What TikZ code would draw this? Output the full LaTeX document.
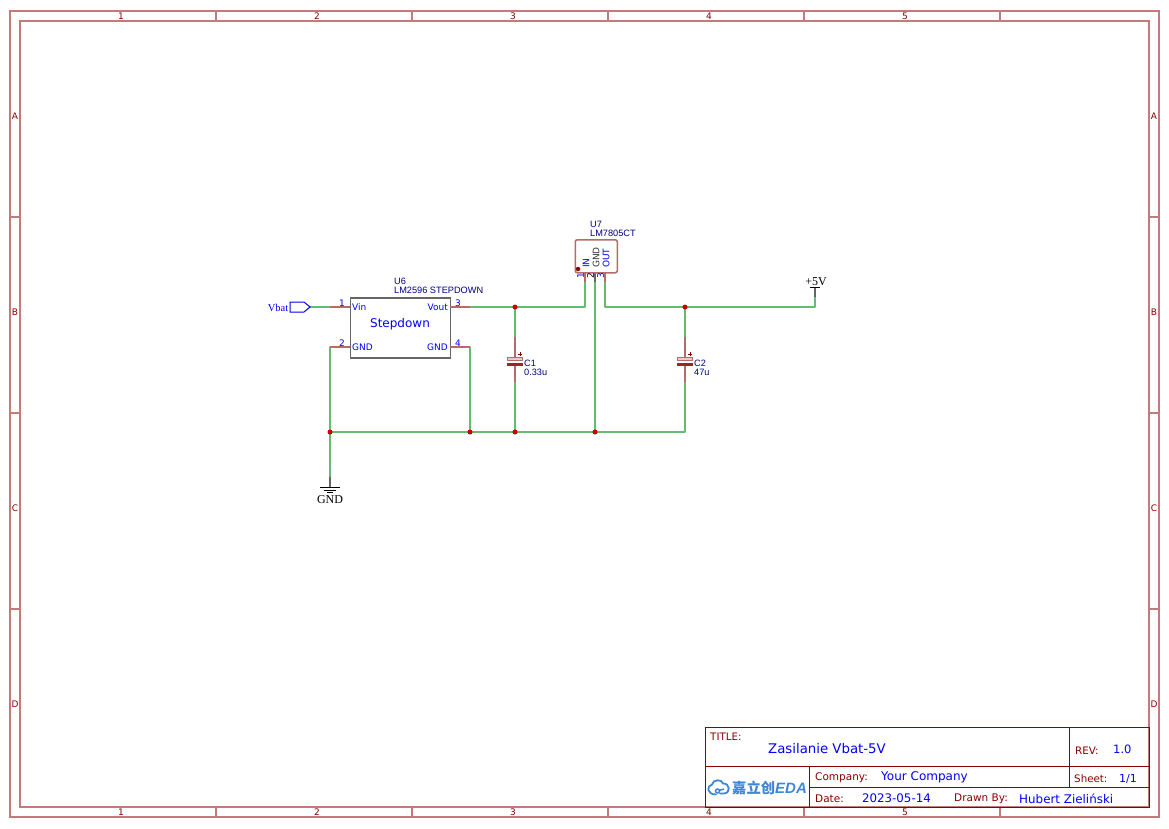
\documentclass[tikz,border=0pt]{standalone}
\usepackage{fontspec}
\setmainfont{DejaVu Sans}
\newfontfamily\liba{Liberation Sans}
\newfontfamily\libs{Liberation Serif}
\newfontfamily\cjkf{Noto Sans CJK SC}
\definecolor{frameC}{HTML}{880000}
\definecolor{frameL}{HTML}{C47A7A}
\definecolor{wireC}{HTML}{66BB70}
\definecolor{pinC}{HTML}{B86A6A}
\definecolor{txtB}{HTML}{0000FF}
\definecolor{desC}{HTML}{000080}
\definecolor{dotC}{HTML}{CC0000}
\definecolor{bodyC}{HTML}{666666}
\definecolor{logoC}{HTML}{3F86D8}
\tikzset{
 x=1pt,y=-1pt,
 frameline/.style={draw=frameL,line width=1.3pt},
 blockline/.style={draw=frameC,line width=0.9pt},
 wire/.style={draw=wireC,line width=1.5pt,line cap=round,line join=round},
 pinline/.style={draw=pinC,line width=1.5pt},
 grayline/.style={draw=bodyC,line width=1.5pt},
 jct/.style={circle,fill=dotC,draw=none,inner sep=0pt,minimum size=5pt},
 lab/.style={inner sep=0pt,font=\fontsize{#1}{#1}\selectfont},
 lab/.default=9,
 tick/.style={lab=9,text=frameC},
 pinname/.style={lab=9,text=txtB},
 pinnum/.style={lab=9,text=txtB},
 des/.style={inner sep=0pt,anchor=west,text=desC,font=\liba\fontsize{9.2}{9.2}\selectfont},
 netl/.style={inner sep=0pt,text=black,font=\libs\fontsize{12}{12}\selectfont},
 tbl/.style={inner sep=0pt,anchor=west,text=frameC,font=\fontsize{#1}{#1}\selectfont},
 tbv/.style={inner sep=0pt,anchor=west,text=txtB,font=\fontsize{#1}{#1}\selectfont},
}
\begin{document}
\begin{tikzpicture}
\useasboundingbox (0,0) rectangle (1169,828);
% sheet frame
\draw[frameline] (10,11) rectangle (1159,817);
\draw[frameline] (20,21) rectangle (1149,807);
\foreach \xx in {216,412,608,804,1000}{
  \draw[frameline] (\xx,11) -- (\xx,21);
  \draw[frameline] (\xx,807) -- (\xx,817);
}
\foreach \yy in {217,413,609}{
  \draw[frameline] (10,\yy) -- (20,\yy);
  \draw[frameline] (1149,\yy) -- (1159,\yy);
}
\foreach \n/\xx in {1/121,2/317,3/513,4/709,5/905}{
  \node[tick] (tt\n) at (\xx,16) {\n};
  \node[tick] (tb\n) at (\xx,812.5) {\n};
}
\foreach \n/\yy in {A/116,B/312,C/508,D/704}{
  \node[tick] (ll\n) at (15,\yy) {\n};
  \node[tick] (lr\n) at (1154,\yy) {\n};
}
% title block
\draw[blockline] (705,727) rectangle (1149,807);
\draw[blockline] (705,766.5) -- (1149,766.5);
\draw[blockline] (809,787) -- (1149,787);
\draw[blockline] (809,766.5) -- (809,807);
\draw[blockline] (1069,727) -- (1069,787);
\node[tbl=10.3] (tl) at (710,737) {TITLE:};
\node[tbv=13.3] (tv) at (768,748.5) {Zasilanie Vbat-5V};
\node[tbl=10.3] (rl) at (1075,750.5) {REV:};
\node[tbv=11.5] (rv) at (1113,749.5) {1.0};
\node[tbl=10.5] (cl) at (815,777.5) {Company:};
\node[tbv=12] (cv) at (881,777) {Your Company};
\node[tbl=10.3] (sl) at (1074,778.5) {Sheet:};
\node[tbv=11] (sv) at (1119,778.5) {1/1};
\node[tbl=10.5] (dl) at (815,799) {Date:};
\node[tbv=11.8] (dv) at (862,798.5) {2023-05-14};
\node[tbl=10.5] (bl) at (954,799) {Drawn By:};
\node[tbv=11.9] (bv) at (1019,798.5) {Hubert Zieliński};
% logo
\draw[logoC,line width=1.8pt,line cap=round,line join=round]
  (716,794.5) .. controls (707,794.5) and (706,786) .. (712,784.5)
  .. controls (713,779) and (722,779) .. (723,783.5)
  .. controls (730,783) and (731,793) .. (724,793.5) -- (720,793.5);
\draw[logoC,line width=1.5pt] (717.5,791) circle (2pt);
\draw[logoC,line width=1.5pt] (724,789) -- (719,790.5);
\node[inner sep=0pt,anchor=west,text=logoC,font=\cjkf\bfseries\fontsize{14.3}{14.3}\selectfont] (logo1) at (732,788) {嘉立创};
\node[inner sep=0pt,anchor=west,text=logoC,font=\liba\bfseries\itshape\fontsize{15}{15}\selectfont] (logo2) at (775,788) {EDA};
% U6
\node[draw=bodyC,line width=1.5pt,minimum width=100pt,minimum height=60pt,inner sep=0pt,anchor=north west] (U6) at (349.5,297) {};
\node[lab=12,text=txtB] (U6n) at (400,324.5) {Stepdown};
\node[des] (U6a) at (394,281.5) {U6};
\node[des] (U6b) at (394,290.5) {LM2596 STEPDOWN};
\node[pinname,anchor=west] (p1n) at (352,307.5) {Vin};
\node[pinname,anchor=east] (p3n) at (448,307.5) {Vout};
\node[pinname,anchor=west] (p2n) at (352,347.5) {GND};
\node[pinname,anchor=east] (p4n) at (448,347.5) {GND};
\node[pinnum] (p1) at (342,303.5) {1};
\node[pinnum] (p2) at (342,343.5) {2};
\node[pinnum] (p3) at (458,303.5) {3};
\node[pinnum] (p4) at (458,343.5) {4};
% net coordinates
\coordinate (vbt) at (310,307);
\coordinate (a1) at (330,307);
\coordinate (a2) at (350,307);
\coordinate (b1) at (450,307);
\coordinate (b2) at (470,307);
\coordinate (c1) at (350,347);
\coordinate (c2) at (330,347);
\coordinate (d1) at (450,347);
\coordinate (d2) at (470,347);
\coordinate (e1) at (585,272);
\coordinate (e2) at (585,282);
\coordinate (e3) at (585,307);
\coordinate (f1) at (595,272);
\coordinate (f2) at (595,282);
\coordinate (g1) at (605,272);
\coordinate (g2) at (605,282);
\coordinate (g3) at (605,307);
\coordinate (h1) at (815,297);
\coordinate (h2) at (815,307);
\coordinate (h3) at (815,287);
\coordinate (i1) at (330,477);
\coordinate (i2) at (330,487);
\coordinate (j1) at (515,307);
\coordinate (j2) at (685,307);
\coordinate (j3) at (330,432);
\coordinate (j4) at (470,432);
\coordinate (j5) at (515,432);
\coordinate (j6) at (595,432);
\coordinate (j7) at (685,432);
\coordinate (k1) at (515,337);
\coordinate (k2) at (515,357);
\coordinate (k3) at (515,366);
\coordinate (k4) at (515,382);
\coordinate (m1) at (685,337);
\coordinate (m2) at (685,357);
\coordinate (m3) at (685,366);
\coordinate (m4) at (685,382);
% wires
\draw[wire] (vbt) -- (a1);
\draw[wire] (b2) -- (e3) -- (e2);
\draw[wire] (g2) -- (g3) -- (h2) -- (h1);
\draw[wire] (c2) -- (i1);
\draw[wire] (d2) -- (j4);
\draw[wire] (j3) -- (j7) -- (m4);
\draw[wire] (f2) -- (j6);
\draw[wire] (j1) -- (k1);
\draw[wire] (k4) -- (j5);
\draw[wire] (j2) -- (m1);
% pins
\draw[pinline] (a1) -- (a2);
\draw[pinline] (b1) -- (b2);
\draw[pinline] (c1) -- (c2);
\draw[pinline] (d1) -- (d2);
\draw[pinline] (e1) -- (e2);
\draw[grayline] (f1) -- (f2);
\draw[pinline] (g1) -- (g2);
\draw[grayline] (h1) -- (h3);
\draw[grayline] (i1) -- (i2);
\draw[pinline] (k1) -- (k2);
\draw[pinline] (k3) -- (k4);
\draw[pinline] (m1) -- (m2);
\draw[pinline] (m3) -- (m4);
% U7
\node[draw=pinC,line width=1.5pt,rounded corners=2pt,minimum width=42pt,minimum height=33pt,inner sep=0pt,anchor=north west] (U7) at (574.5,239) {};
\node[des] (U7a) at (590,224) {U7};
\node[des] (U7b) at (590,233) {LM7805CT};
\node[pinname,rotate=90,anchor=west] (in) at (586,268) {IN};
\node[lab=9,text=black!80,rotate=90,anchor=west] (gn) at (596,268) {GND};
\node[pinname,rotate=90,anchor=west] (ou) at (606,268) {OUT};
\node[pinnum,rotate=90] (q1) at (580.5,276) {1};
\node[lab=9,text=black,rotate=90] (q2) at (590.5,276) {2};
\node[pinnum,rotate=90] (q3) at (600.5,276) {3};
\node[circle,fill=frameC,inner sep=0pt,minimum size=4.5pt] (U7d) at (578,269) {};
% junction dots
\foreach \p in {j1,j2,j3,j4,j5,j6}{
  \node[jct] (dot\p) at (\p) {};
}
% capacitors
\foreach \xx/\nm/\vv in {515/C1/0.33u,685/C2/47u}{
  \draw[pinC,line width=1pt,fill=frameL!40] (\xx-7.5,357) rectangle (\xx+7.5,360.5);
  \fill[frameC!85] (\xx-8,362.5) rectangle (\xx+8,366);
  \draw[frameC,line width=0.9pt] (\xx+3,354) -- (\xx+7,354) (\xx+5,352) -- (\xx+5,356);
  \node[des] (n\nm) at (\xx+9,363) {\nm};
  \node[des] (v\nm) at (\xx+9,372) {\vv};
}
% net flags
\draw[txtB,line width=1pt] (290,302) -- (304,302) -- (310,307) -- (304,312) -- (290,312) -- cycle;
\node[inner sep=0pt,anchor=east,text=txtB,font=\libs\fontsize{10.5}{10.5}\selectfont] (vb) at (288.5,307.5) {Vbat};
\draw[draw=black,line width=1pt] (810,287) -- (820,287);
\node[netl] (v5) at (816,281.5) {+5V};
\draw[black,line width=1pt] (320,487.5) -- (340,487.5);
\draw[black,line width=1pt] (324,490) -- (336,490);
\draw[black,line width=1pt] (327,492.5) -- (333,492.5);
\node[netl] (gndn) at (330,499.5) {GND};
\end{tikzpicture}
\end{document}
